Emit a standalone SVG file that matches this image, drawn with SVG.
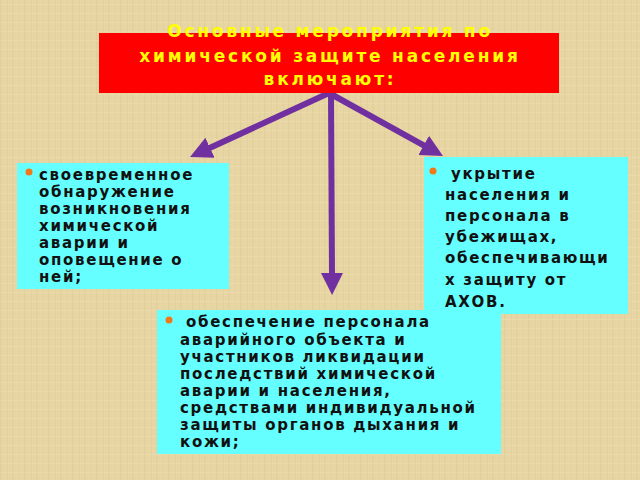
<svg xmlns="http://www.w3.org/2000/svg" width="640" height="480" viewBox="0 0 640 480">
<defs>
<pattern id="tex" width="12" height="9" patternUnits="userSpaceOnUse">
<rect width="12" height="9" fill="#e7d6a3"/>
<rect x="0" y="0" width="1.5" height="9" fill="#d9c48c" opacity="0.35"/>
<rect x="0" y="4" width="12" height="1" fill="#f0e2b8" opacity="0.4"/>
<rect x="7" y="0" width="1" height="9" fill="#dcc995" opacity="0.3"/>
</pattern>
<marker id="ah" markerUnits="userSpaceOnUse" markerWidth="24" markerHeight="24" viewBox="0 0 24 24" refX="1" refY="12" orient="auto">
<path d="M0,1 L22,12 L0,23 Z" fill="#7030a0"/>
</marker>
</defs>
<style>
.box{fill:#66ffff}
.t{font-family:"DejaVu Sans",Verdana,sans-serif;font-weight:bold;font-size:15px;letter-spacing:1.7px;fill:#111111}
.title{font-family:"DejaVu Sans",Verdana,sans-serif;font-weight:bold;font-size:17px;letter-spacing:2.8px;fill:#ffff00;text-anchor:middle}
.conn{stroke:#7030a0;stroke-width:6;fill:none}
.bul{fill:#f07818}
</style>
<rect width="640" height="480" fill="url(#tex)"/>
<g id="connectors">
<line class="conn" x1="329" y1="93" x2="209.1" y2="148.2" marker-end="url(#ah)"/>
<line class="conn" x1="329" y1="93" x2="424.6" y2="145.8" marker-end="url(#ah)"/>
<line class="conn" x1="331" y1="93" x2="332" y2="274" marker-end="url(#ah)"/>
</g>
<g id="title">
<rect x="99" y="33" width="460" height="60" fill="#ff0000"/>
<text class="title" x="330" y="37">Основные мероприятия по</text>
<text class="title" x="330" y="62">химической защите населения</text>
<text class="title" x="330" y="85">включают:</text>
</g>
<g id="left">
<rect class="box" x="17" y="163" width="212" height="126"/>
<circle class="bul" cx="29" cy="172" r="3.5"/>
<text class="t" x="39" y="180">своевременное</text>
<text class="t" x="39" y="197">обнаружение</text>
<text class="t" x="39" y="214">возникновения</text>
<text class="t" x="39" y="231">химической</text>
<text class="t" x="39" y="248">аварии и</text>
<text class="t" x="39" y="265">оповещение о</text>
<text class="t" x="39" y="282">ней;</text>
</g>
<g id="right">
<rect class="box" x="424" y="157" width="204" height="157"/>
<circle class="bul" cx="433" cy="171" r="3.5"/>
<text class="t" x="451" y="179">укрытие</text>
<text class="t" x="445" y="200">населения и</text>
<text class="t" x="445" y="221">персонала в</text>
<text class="t" x="445" y="242">убежищах,</text>
<text class="t" x="445" y="263">обеспечивающи</text>
<text class="t" x="445" y="285">х защиту от</text>
<text class="t" x="445" y="307">АХОВ.</text>
</g>
<g id="bottom">
<rect class="box" x="157" y="310" width="344" height="144"/>
<circle class="bul" cx="169" cy="320" r="3.5"/>
<text class="t" x="186" y="327">обеспечение персонала</text>
<text class="t" x="180" y="345">аварийного объекта и</text>
<text class="t" x="180" y="362">участников ликвидации</text>
<text class="t" x="180" y="379">последствий химической</text>
<text class="t" x="180" y="396">аварии и населения,</text>
<text class="t" x="180" y="413">средствами индивидуальной</text>
<text class="t" x="180" y="430">защиты органов дыхания и</text>
<text class="t" x="180" y="447">кожи;</text>
</g>
</svg>
